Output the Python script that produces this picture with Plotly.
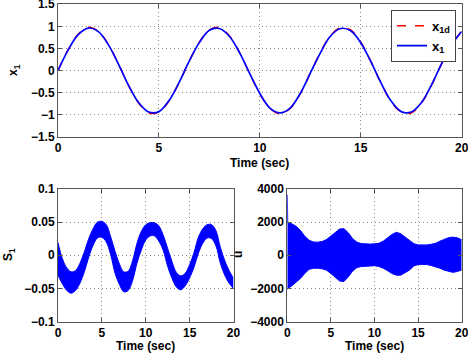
import plotly.graph_objects as go

# ---------------- data ----------------
t = [0, 0.5, 1, 1.5, 2, 2.5, 3, 3.5, 4, 4.5, 5, 5.5, 6, 6.5, 7, 7.5, 8, 8.5, 9, 9.5,
     10, 10.5, 11, 11.5, 12, 12.5, 13, 13.5, 14, 14.5, 15, 15.5, 16, 16.5, 17, 17.5,
     18, 18.5, 19, 19.5, 20]

x1d = [0.0, 0.47, 0.82, 0.98, 0.89, 0.59, 0.14, -0.34, -0.74, -0.96, -0.94, -0.69,
       -0.27, 0.21, 0.64, 0.92, 0.97, 0.78, 0.40, -0.07, -0.53, -0.86, -0.98, -0.86,
       -0.53, -0.06, 0.41, 0.79, 0.97, 0.92, 0.64, 0.20, -0.28, -0.70, -0.94, -0.96,
       -0.74, -0.34, 0.15, 0.59, 0.89]

x1 = [0.0, 0.46, 0.81, 0.96, 0.88, 0.58, 0.14, -0.34, -0.73, -0.94, -0.93, -0.68,
      -0.27, 0.21, 0.63, 0.91, 0.95, 0.77, 0.40, -0.07, -0.52, -0.85, -0.96, -0.85,
      -0.52, -0.06, 0.40, 0.78, 0.95, 0.90, 0.63, 0.20, -0.28, -0.69, -0.93, -0.94,
      -0.73, -0.33, 0.15, 0.58, 0.88]

s1_upper = [0.019, -0.005, -0.019, -0.025, -0.023, -0.012, 0.005, 0.025, 0.040, 0.050,
            0.051, 0.046, 0.028, 0.006, -0.013, -0.025, -0.024, -0.008, 0.018, 0.036,
            0.046, 0.049, 0.049, 0.044, 0.030, 0.010, -0.010, -0.026, -0.031, -0.027,
            -0.014, 0.004, 0.027, 0.040, 0.046, 0.046, 0.037, 0.012, -0.008, -0.023,
            -0.035]
s1_lower = [-0.030, -0.043, -0.053, -0.057, -0.053, -0.042, -0.025, -0.003, 0.015, 0.026,
            0.027, 0.020, 0.001, -0.027, -0.044, -0.055, -0.053, -0.038, -0.012, 0.008,
            0.023, 0.029, 0.029, 0.021, 0.007, -0.017, -0.035, -0.048, -0.052, -0.046,
            -0.034, -0.018, 0.003, 0.018, 0.026, 0.025, 0.014, -0.012, -0.030, -0.042,
            -0.050]

tu = [0, 0.05, 0.5, 1, 1.5, 2, 2.5, 3, 3.5, 4, 4.5, 5, 5.5, 6, 6.5, 7, 7.5, 8, 8.5, 9,
      9.5, 10, 10.5, 11, 11.5, 12, 12.5, 13, 13.5, 14, 14.5, 15, 15.5, 16, 16.5, 17,
      17.5, 18, 18.5, 19, 19.5, 20]
u_upper = [3650, 1950, 1900, 1750, 1500, 1150, 900, 800, 790, 830, 950, 1150, 1400, 1580,
           1600, 1350, 1000, 780, 700, 680, 670, 690, 720, 850, 1050, 1250, 1380, 1300,
           1100, 900, 700, 620, 600, 620, 660, 720, 850, 980, 1060, 1090, 1050, 930]
u_lower = [-2050, -2000, -1850, -1650, -1400, -1100, -850, -790, -780, -820, -900, -1100,
           -1350, -1550, -1580, -1300, -950, -740, -680, -650, -620, -630, -680, -780,
           -930, -1100, -1200, -1200, -1050, -900, -650, -560, -550, -560, -620, -680,
           -780, -900, -980, -1030, -980, -890]

x_ticks = [0, 5, 10, 15, 20]
x1_ticks = [-1.5, -1, -0.5, 0, 0.5, 1, 1.5]
x1_ticktext = ["\u22121.5", "\u22121", "\u22120.5", "0", "0.5", "1", "1.5"]
s1_ticks = [-0.1, -0.05, 0, 0.05, 0.1]
s1_ticktext = ["\u22120.1", "\u22120.05", "0", "0.05", "0.1"]
u_ticks = [-4000, -2000, 0, 2000, 4000]
u_ticktext = ["\u22124000", "\u22122000", "0", "2000", "4000"]

# ---------------- figure ----------------
BLUE = "#0000FF"
RED = "#FF0000"
FONT = "Liberation Sans"
W, H = 468, 354


def px(x):
    return x / W


def py(y):
    return 1 - y / H


fig = go.Figure()

fig.add_trace(go.Scatter(x=t, y=x1d, mode="lines", name="<b>x<sub>1d</sub></b>",
                         legendgroup="a",
                         line=dict(color=RED, width=1.5, dash="dash", shape="spline"),
                         xaxis="x", yaxis="y"))
fig.add_trace(go.Scatter(x=t, y=x1, mode="lines", name="<b>x<sub>1</sub></b>",
                         legendgroup="b",
                         line=dict(color=BLUE, width=1.7, shape="spline"),
                         xaxis="x", yaxis="y"))

fig.add_trace(go.Scatter(x=t, y=s1_lower, mode="lines", showlegend=False,
                         line=dict(color=BLUE, width=1, shape="spline"),
                         xaxis="x2", yaxis="y2"))
fig.add_trace(go.Scatter(x=t, y=s1_upper, mode="lines", showlegend=False, fill="tonexty",
                         fillcolor=BLUE, line=dict(color=BLUE, width=1, shape="spline"),
                         xaxis="x2", yaxis="y2"))

fig.add_trace(go.Scatter(x=tu, y=u_lower, mode="lines", showlegend=False,
                         line=dict(color=BLUE, width=1),
                         xaxis="x3", yaxis="y3"))
fig.add_trace(go.Scatter(x=tu, y=u_upper, mode="lines", showlegend=False, fill="tonexty",
                         fillcolor=BLUE, line=dict(color=BLUE, width=1),
                         xaxis="x3", yaxis="y3"))

AX = "#555555"
TICKFONT = dict(family=FONT, size=12, color="#000", weight="bold")
common = dict(showline=True, linecolor=AX, linewidth=1, mirror="ticks",
              ticks="inside", ticklen=4, tickcolor=AX, automargin=False,
              ticklabeloverflow="allow",
              showgrid=True, gridcolor="#888888", griddash="1px,3px", gridwidth=1,
              zeroline=False, tickfont=TICKFONT)

xd_top = [px(58), px(461.7)]
xd_bl = [px(58), px(233.5)]
xd_br = [px(287.3), px(461.7)]
yd_top = [py(136.8), py(4.2)]
yd_bot = [py(321.7), py(188.8)]

fig.update_layout(
    template="none",
    width=W, height=H,
    margin=dict(l=0, r=0, t=0, b=0, pad=0),
    paper_bgcolor="white", plot_bgcolor="white",
    font=dict(family=FONT, size=12, color="#000"),
    xaxis=dict(domain=xd_top, range=[0, 20], tickvals=x_ticks, anchor="y", **common),
    yaxis=dict(domain=yd_top, range=[-1.5, 1.5], tickvals=x1_ticks, ticktext=x1_ticktext,
               anchor="x", **common),
    xaxis2=dict(domain=xd_bl, range=[0, 20], tickvals=x_ticks, anchor="y2", **common),
    yaxis2=dict(domain=yd_bot, range=[-0.1, 0.1], tickvals=s1_ticks, ticktext=s1_ticktext,
                anchor="x2", **common),
    xaxis3=dict(domain=xd_br, range=[0, 20], tickvals=x_ticks, anchor="y3", **common),
    yaxis3=dict(domain=yd_bot, range=[-4000, 4000], tickvals=u_ticks, ticktext=u_ticktext,
                anchor="x3", **common),
    legend=dict(x=px(456), xanchor="right", y=py(9.7), yanchor="top",
                bgcolor="white", bordercolor="#444", borderwidth=1,
                font=dict(family=FONT, size=13, color="#000"),
                traceorder="normal", tracegroupgap=2),
    showlegend=True,
)

ann = [
    dict(text="<b>Time (sec)</b>", x=px((58 + 461.7) / 2), y=py(163)),
    dict(text="<b>Time (sec)</b>", x=px((58 + 233.5) / 2), y=py(346)),
    dict(text="<b>Time (sec)</b>", x=px((287.3 + 461.7) / 2), y=py(346)),
    dict(text="<b>x<sub>1</sub></b>", x=px(14), y=py(70), textangle=-90),
    dict(text="<b>S<sub>1</sub></b>", x=px(9), y=py(255), textangle=-90),
    dict(text="<b>u</b>", x=px(238), y=py(255), textangle=-90),
]
for a in ann:
    fig.add_annotation(xref="paper", yref="paper", showarrow=False,
                       xanchor="center", yanchor="middle",
                       font=dict(family=FONT, size=12, color="#000"), **a)

fig.write_html("out.html", config={"displayModeBar": False},
               post_script="document.body.style.margin='0';document.body.style.padding='0';")
